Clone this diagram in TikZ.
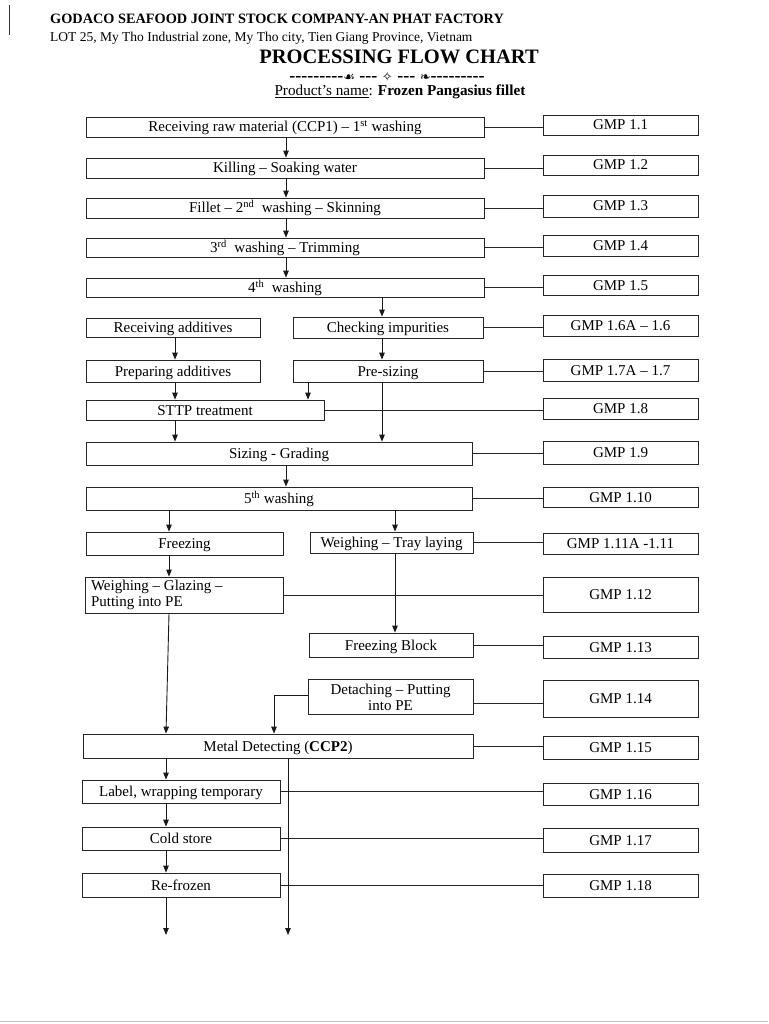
\documentclass[tikz,border=0pt]{standalone}
\usepackage{fontspec}
\setmainfont{Liberation Serif}
\newfontfamily\symfont{DejaVu Sans}
\usetikzlibrary{arrows.meta}
\tikzset{
  boxbase/.style={draw=black!85, line width=0.8pt, inner sep=0pt, font=\fontsize{15}{16}\selectfont},
  box/.style={boxbase, text height=10pt, text depth=0pt},
  gmp/.style={box, minimum width=155pt},
  arr/.style={draw=black!90, line width=0.9pt, -{Triangle[length=7pt,width=5.5pt]}},
  lnk/.style={draw=black!85, line width=0.8pt}
}
\begin{document}
\begin{tikzpicture}[x=1pt,y=-1pt]
\fill[white] (0,0) rectangle (768,1024);
\useasboundingbox (0,0) rectangle (768,1024);
\draw[black!80, line width=0.8pt] (9,5) -- (9,35);
\draw[black!25, line width=1pt] (0,1021) -- (768,1021);

% header
\node[anchor=west, inner sep=0pt, font=\fontsize{14.3}{16}\selectfont\bfseries] (h1) at (50,19) {GODACO SEAFOOD JOINT STOCK COMPANY-AN PHAT FACTORY};
\node[anchor=west, inner sep=0pt, font=\fontsize{13.5}{16}\selectfont] (h2) at (50,38) {LOT 25, My Tho Industrial zone, My Tho city, Tien Giang Province, Vietnam};
\node[inner sep=0pt, font=\fontsize{20.5}{22}\selectfont\bfseries] (h3) at (399,57) {PROCESSING FLOW CHART};
\node[inner sep=0pt, font=\fontsize{18}{18}\selectfont\bfseries] (h4) at (387,77) {-{}-{}-{}-{}-{}-{}-{}-{}-{\symfont\fontsize{13}{13}\selectfont ☙} -{}-{}- {\symfont\fontsize{13}{13}\selectfont ✧} -{}-{}- {\symfont\fontsize{13}{13}\selectfont ❧}-{}-{}-{}-{}-{}-{}-{}-{}-};
\node[inner sep=0pt, font=\fontsize{15.2}{16}\selectfont] (h5) at (400,92) {\underline{Product’s name}: \textbf{Frozen Pangasius fillet}};

% main boxes
\node[box, minimum width=398pt, minimum height=20pt] (b1) at (285,127) {Receiving raw material (CCP1) – 1\textsuperscript{st} washing};
\node[box, minimum width=398pt, minimum height=20pt] (b2) at (285,168) {Killing – Soaking water};
\node[box, minimum width=398pt, minimum height=20pt] (b3) at (285,208) {Fillet – 2\textsuperscript{nd}\ \ washing – Skinning};
\node[box, minimum width=398pt, minimum height=19pt] (b4) at (285,247.5) {3\textsuperscript{rd}\ \ washing – Trimming};
\node[box, minimum width=398pt, minimum height=19pt] (b5) at (285,287.5) {4\textsuperscript{th}\ \ washing};

\node[box, minimum width=174pt, minimum height=19pt] (ra) at (173,327.5) {Receiving additives};
\node[box, minimum width=190pt, minimum height=21pt] (ci) at (388,327.5) {Checking impurities};
\node[box, minimum width=174pt, minimum height=22pt] (pa) at (173,371) {Preparing additives};
\node[box, minimum width=190pt, minimum height=22pt] (ps) at (388,371) {Pre-sizing};
\node[box, minimum width=238pt, minimum height=20pt] (st) at (205,410) {STTP treatment};
\node[box, minimum width=386pt, minimum height=23pt] (sg) at (279,453.5) {Sizing - Grading};
\node[box, minimum width=386pt, minimum height=23pt] (w5) at (279,498.5) {5\textsuperscript{th} washing};

\node[box, minimum width=197pt, minimum height=23pt] (fr) at (184.5,543.5) {Freezing};
\node[box, minimum width=163pt, minimum height=21pt] (wt) at (391.5,542.5) {Weighing – Tray laying};
\node[boxbase, minimum height=36pt, inner xsep=6pt, text width=186pt, align=flush left] (wg) at (184,595) {Weighing – Glazing –\\Putting into PE};
\node[box, minimum width=164pt, minimum height=24pt] (fb) at (391,645) {Freezing Block};
\node[boxbase, minimum width=165pt, minimum height=35pt, align=center] (dp) at (390.5,697) {Detaching – Putting\\into PE};
\node[box, minimum width=390pt, minimum height=24pt] (md) at (278,746) {Metal Detecting (\textbf{CCP2})};
\node[box, minimum width=198pt, minimum height=23pt] (lw) at (181,791.5) {Label, wrapping temporary};
\node[box, minimum width=198pt, minimum height=23pt] (cs) at (181,838.5) {Cold store};
\node[box, minimum width=198pt, minimum height=24pt] (rf) at (181,885) {Re-frozen};

% GMP boxes
\node[gmp, minimum height=20pt] (g1) at (620.5,125) {GMP 1.1};
\node[gmp, minimum height=20pt] (g2) at (620.5,165) {GMP 1.2};
\node[gmp, minimum height=22pt] (g3) at (620.5,206) {GMP 1.3};
\node[gmp, minimum height=21pt] (g4) at (620.5,245.5) {GMP 1.4};
\node[gmp, minimum height=20pt] (g5) at (620.5,285) {GMP 1.5};
\node[gmp, minimum height=21pt] (g6) at (620.5,325.5) {GMP 1.6A – 1.6};
\node[gmp, minimum height=22pt] (g7) at (620.5,370) {GMP 1.7A – 1.7};
\node[gmp, minimum height=21pt] (g8) at (620.5,408.5) {GMP 1.8};
\node[gmp, minimum height=23pt] (g9) at (620.5,452.5) {GMP 1.9};
\node[gmp, minimum height=20pt] (g10) at (620.5,497) {GMP 1.10};
\node[gmp, minimum height=21pt] (g11) at (620.5,543.5) {GMP 1.11A -1.11};
\node[gmp, minimum height=35pt] (g12) at (620.5,594.5) {GMP 1.12};
\node[gmp, minimum height=22pt] (g13) at (620.5,647) {GMP 1.13};
\node[gmp, minimum height=37pt] (g14) at (620.5,698.5) {GMP 1.14};
\node[gmp, minimum height=23pt] (g15) at (620.5,747.5) {GMP 1.15};
\node[gmp, minimum height=22pt] (g16) at (620.5,794) {GMP 1.16};
\node[gmp, minimum height=24pt] (g17) at (620.5,840) {GMP 1.17};
\node[gmp, minimum height=23pt] (g18) at (620.5,885.5) {GMP 1.18};

% x positions of vertical flows
\coordinate (xm) at (286,0);
\coordinate (xa) at (382,0);
\coordinate (xb) at (308,0);
\coordinate (xc) at (175,0);
\coordinate (xd) at (169,0);
\coordinate (xe) at (395,0);
\coordinate (xg) at (274,0);
\coordinate (xh) at (166,0);
\coordinate (endR) at (288,935);
\coordinate (endL) at (166,935);

% links to GMP
\foreach \a/\g in {b1/g1,b2/g2,b3/g3,b4/g4,b5/g5,ci/g6,ps/g7,st/g8,sg/g9,w5/g10,wt/g11,wg/g12,fb/g13,md/g15,lw/g16,cs/g17,rf/g18}
  \draw[lnk] (\a.east) -- (\a.east -| \g.west);
\draw[lnk] ([yshift=-6pt]dp.east) -- ([yshift=-6pt]dp.east -| g14.west);

% arrows
\draw[arr] (b1.south -| xm) -- (b2.north -| xm);
\draw[arr] (b2.south -| xm) -- (b3.north -| xm);
\draw[arr] (b3.south -| xm) -- (b4.north -| xm);
\draw[arr] (b4.south -| xm) -- (b5.north -| xm);
\draw[arr] (b5.south -| xa) -- (ci.north -| xa);
\draw[arr] (ra.south -| xc) -- (pa.north -| xc);
\draw[arr] (ci.south -| xa) -- (ps.north -| xa);
\draw[arr] (pa.south -| xc) -- (st.north -| xc);
\draw[arr] (ps.south -| xb) -- (st.north -| xb);
\draw[arr] (ps.south -| xa) -- (sg.north -| xa);
\draw[arr] (st.south -| xc) -- (sg.north -| xc);
\draw[arr] (sg.south -| xm) -- (w5.north -| xm);
\draw[arr] (w5.south -| xd) -- (fr.north -| xd);
\draw[arr] (w5.south -| xe) -- (wt.north -| xe);
\draw[arr] (fr.south -| xd) -- (wg.north -| xd);
\draw[arr] (wt.south -| xe) -- (fb.north -| xe);
\draw[arr] (wg.south -| xd) -- (md.north -| xh);
\draw[arr] ([yshift=2pt]dp.west) -| (md.north -| xg);
\draw[arr] (md.south -| xh) -- (lw.north -| xh);
\draw[arr] (md.south -| endR) -- (endR);
\draw[arr] (lw.south -| xh) -- (cs.north -| xh);
\draw[arr] (cs.south -| xh) -- (rf.north -| xh);
\draw[arr] (rf.south -| xh) -- (endL);
\end{tikzpicture}
\end{document}
